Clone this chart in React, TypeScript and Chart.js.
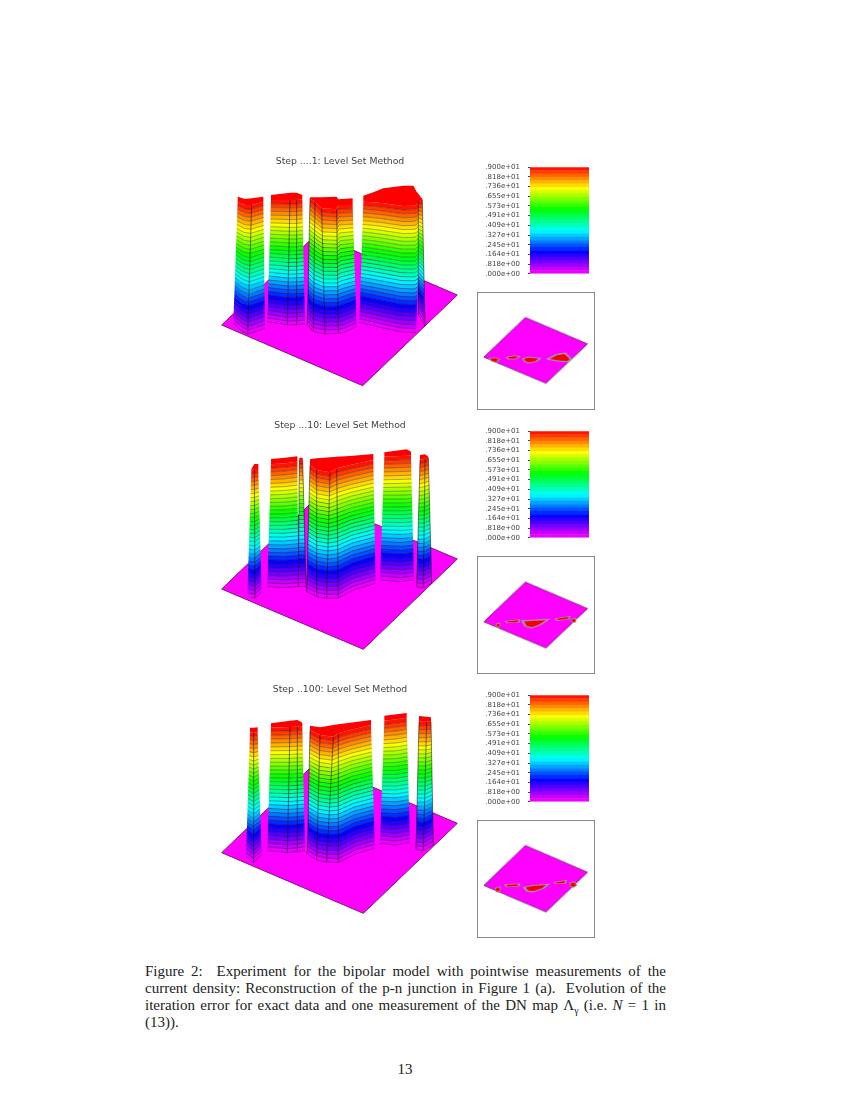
import React, { useEffect, useRef } from "react";
import { Chart, registerables } from "chart.js";

Chart.register(...registerables);

const stepTitles = ["Step ....1: Level Set Method", "Step ...10: Level Set Method", "Step ..100: Level Set Method"];

// Colour-bar ticks
const tickValues = [0, 0.818, 1.64, 2.45, 3.27, 4.09, 4.91, 5.73, 6.55, 7.36, 8.18, 9.0];
const tickLabels = [".000e+00", ".818e+00", ".164e+01", ".245e+01", ".327e+01", ".409e+01", ".491e+01", ".573e+01", ".655e+01", ".736e+01", ".818e+01", ".900e+01"];
// Contour levels of the surface
const zLevels = [0, 0.28, 0.56, 0.84, 1.13, 1.41, 1.69, 1.97, 2.25, 2.53, 2.81, 3.09, 3.38, 3.66, 3.94, 4.22, 4.5, 4.78, 5.06, 5.34, 5.63, 5.91, 6.19, 6.47, 6.75, 7.03, 7.31, 7.59, 7.88, 8.16, 8.44, 8.72, 9];
const zMax = 9;

// Surface plates: corners in view units [left, bottom, right, top]
const plate1 = [[35, 525], [458, 707], [742, 435], [319, 253]];
const plate2 = [[35, 522], [460, 703], [742, 432], [317, 251]];
const plate3 = [[35, 518], [460, 700], [742, 430], [317, 248]];

// Walls of the reconstructed junction in view units
const walls1 = [
  { topX: [83, 105, 125, 160], capY: [140, 147, 145, 140], frontY: [155, 165, 165, 155], baseX: [70, 92, 113, 165], baseY: [520, 540, 553, 535], seams: [2] },
  { topX: [183, 240, 260, 277], capY: [135, 128, 128, 135], frontY: [150, 150, 150, 148], baseX: [172, 232, 258, 285], baseY: [515, 525, 524, 522], seams: [1, 2] },
  { topX: [300, 315, 335, 380, 385, 428], capY: [142, 142, 142, 140, 148, 145], frontY: [145, 155, 175, 178, 165, 165], baseX: [292, 310, 345, 385, 400, 440], baseY: [525, 545, 552, 550, 548, 530], seams: [0, 1, 2, 3] },
  { topX: [460, 490, 520, 580, 610, 620, 632], capY: [137, 127, 115, 107, 107, 125, 140], frontY: [155, 157, 160, 168, 167, 165, 150], baseX: [448, 480, 510, 570, 600, 610, 618], baseY: [518, 525, 532, 545, 547, 548, 548], seams: [] },
  { topX: [625, 637], capY: [140, 145], frontY: [150, 150], baseX: [625, 645], baseY: [495, 527], seams: [0, 1] },
];
const walls2 = [
  { topX: [124, 133, 145], capY: [162, 147, 147], frontY: [165, 162, 162], baseX: [112, 135, 155], baseY: [545, 550, 530], seams: [1] },
  { topX: [183, 225, 262], capY: [132, 128, 124], frontY: [148, 145, 140], baseX: [172, 220, 265], baseY: [515, 518, 515], seams: [] },
  { topX: [268, 278], capY: [128, 128], frontY: [135, 135], baseX: [265, 288], baseY: [515, 515], seams: [0, 1] },
  { topX: [300, 320, 360, 380, 420, 490], capY: [133, 130, 127, 125, 123, 117], frontY: [150, 165, 172, 160, 150, 135], baseX: [290, 320, 350, 385, 430, 497], baseY: [530, 545, 550, 550, 525, 505], seams: [0, 1, 2, 3] },
  { topX: [523, 590, 603], capY: [112, 103, 110], frontY: [125, 122, 122], baseX: [510, 570, 612], baseY: [495, 500, 495], seams: [] },
  { topX: [630, 645, 655], capY: [120, 118, 125], frontY: [135, 130, 128], baseX: [620, 640, 665], baseY: [515, 518, 505], seams: [0, 1, 2] },
];
const walls3 = [
  { topX: [120, 131, 143], capY: [143, 143, 142], frontY: [157, 157, 157], baseX: [108, 130, 155], baseY: [530, 548, 525], seams: [1] },
  { topX: [183, 240, 262, 277], capY: [130, 122, 120, 128], frontY: [143, 141, 140, 140], baseX: [172, 232, 262, 285], baseY: [512, 518, 515, 512], seams: [1, 2] },
  { topX: [300, 330, 370, 385, 420, 483], capY: [137, 142, 135, 133, 128, 120], frontY: [150, 165, 170, 160, 150, 135], baseX: [292, 320, 350, 385, 440, 495], baseY: [522, 540, 546, 548, 520, 505], seams: [0, 1, 2, 3] },
  { topX: [523, 560, 590], capY: [107, 103, 99], frontY: [122, 118, 113], baseX: [510, 555, 600], baseY: [490, 495, 488], seams: [] },
  { topX: [627, 650, 663], capY: [108, 110, 112], frontY: [125, 125, 125], baseX: [618, 640, 670], baseY: [510, 512, 495], seams: [0, 1, 2] },
];

// Inset maps: plate corners and error regions in view units
const insetPlate1 = [[40, 218], [230, 298], [357, 178], [167, 97]];
const insetPlate2 = [[40, 216], [230, 296], [357, 176], [167, 95]];
const insetPlate3 = [[40, 212], [230, 293], [357, 172], [167, 90]];
const blobs1 = [
  [[55, 222], [75, 220], [88, 225], [78, 235], [62, 230]],
  [[108, 219], [130, 214], [150, 216], [140, 223], [115, 224]],
  [[158, 223], [175, 218], [215, 222], [200, 232], [175, 236], [162, 230]],
  [[232, 224], [260, 210], [290, 205], [310, 225], [300, 233], [265, 230]],
];
const blobs2 = [
  [[78, 222], [90, 220], [86, 234], [78, 232]],
  [[105, 215], [150, 210], [148, 218], [110, 219]],
  [[155, 213], [240, 208], [215, 225], [185, 235], [165, 230]],
  [[258, 207], [305, 200], [300, 208], [262, 212]],
  [[305, 210], [322, 205], [320, 218], [310, 218]],
];
const blobs3 = [
  [[75, 220], [90, 216], [88, 232], [78, 232]],
  [[103, 210], [150, 207], [148, 214], [108, 216]],
  [[160, 218], [190, 212], [240, 208], [225, 220], [190, 232], [170, 230]],
  [[255, 203], [292, 197], [290, 205], [260, 207]],
  [[303, 205], [318, 200], [325, 212], [315, 218], [305, 215]],
];

const rampColor = (z: number) => `hsl(${300 * (1 - z / zMax)}, 100%, 50%)`;
const toPts = (pairs: number[][]) => pairs.map(([x, y]) => ({ x, y }));
const closed = (pts: any[]) => [...pts, pts[0]];

function polygon(pts: any[], fillColor: string, borderColor = "transparent", borderWidth = 0) {
  return { data: closed(pts), fill: "shape", backgroundColor: fillColor, borderColor, borderWidth, showLine: true, pointRadius: 0, tension: 0 };
}
function polyline(pts: any[], borderColor: string, borderWidth: number) {
  return { data: pts, fill: false, borderColor, borderWidth, showLine: true, pointRadius: 0, tension: 0 };
}

function surfaceDatasets(plate: number[][], walls: any[]) {
  const list: any[] = [polygon(toPts(plate), "#ff00ff", "#7a1a7a", 1)];
  for (const w of walls) {
    const profile = (z: number) =>
      w.topX.map((tx: number, i: number) => ({
        x: w.baseX[i] + ((tx - w.baseX[i]) * z) / zMax,
        y: w.baseY[i] + ((w.frontY[i] - w.baseY[i]) * z) / zMax,
      }));
    for (let k = 0; k < zLevels.length - 1; k++) {
      const lo = profile(zLevels[k]);
      const hi = profile(zLevels[k + 1]);
      list.push(polygon([...lo, ...[...hi].reverse()], rampColor((zLevels[k] + zLevels[k + 1]) / 2)));
    }
    list.push(polygon([...w.topX.map((x: number, i: number) => ({ x, y: w.capY[i] })), ...[...w.topX].reverse().map((x: number, i: number) => ({ x, y: w.frontY[w.topX.length - 1 - i] }))], "#ff0000"));
    for (let k = 0; k < zLevels.length - 1; k++) {
      list.push(polyline(profile(zLevels[k]), "rgba(0,0,0,0.45)", 0.7));
    }
    for (const s of w.seams) {
      list.push(polyline([{ x: w.baseX[s], y: w.baseY[s] }, { x: w.topX[s], y: w.frontY[s] }], "rgba(0,0,0,0.55)", 0.9));
    }
  }
  return list.reverse();
}

function insetDatasets(plate: number[][], blobs: number[][][]) {
  const list: any[] = [polygon(toPts(plate), "#ff00ff", "#8a208a", 1)];
  for (const b of blobs) {
    const cx = b.reduce((a, p) => a + p[0], 0) / b.length;
    const cy = b.reduce((a, p) => a + p[1], 0) / b.length;
    list.push(polygon(toPts(b), "#b08ac8", "#9aa58a", 0.8));
    list.push(polygon(b.map(([x, y]) => ({ x: cx + (x - cx) * 0.78, y: cy + (y - cy) * 0.78 })), "#f00000"));
  }
  return list.reverse();
}

const hiddenAxes = (xMin: number, xMax: number, yMin: number, yMax: number) => ({
  x: { type: "linear", display: false, min: xMin, max: xMax },
  y: { type: "linear", display: false, reverse: true, min: yMin, max: yMax },
});

function useChart(config: () => any) {
  const ref = useRef<HTMLCanvasElement>(null);
  useEffect(() => {
    const chart = new Chart(ref.current as HTMLCanvasElement, config());
    return () => chart.destroy();
  }, []);
  return ref;
}

const canvasStyle = (left: number, top: number, extra = {}) => ({ position: "absolute", left, top, filter: "blur(0.4px)", ...extra } as React.CSSProperties);

function Surface({ top, title, titleTop, plate, walls }: any) {
  const ref = useChart(() => ({
    type: "scatter",
    data: { datasets: surfaceDatasets(plate, walls) },
    options: {
      responsive: false,
      animation: false,
      events: [],
      layout: { padding: 0 },
      scales: hiddenAxes(0, 780, 57, 735),
      plugins: {
        legend: { display: false },
        tooltip: { enabled: false },
        title: {
          display: true,
          text: title,
          color: "#444",
          font: { family: "DejaVu Sans", size: 9.3, weight: "normal", lineHeight: 1 },
          padding: { top: titleTop, bottom: 19 - 9.3 - titleTop },
        },
      },
    },
  }));
  return <canvas ref={ref} width={260} height={245} style={canvasStyle(210, top)} />;
}

function ColorBar({ top }: any) {
  const ref = useChart(() => ({
    type: "bar",
    data: {
      labels: ["z"],
      datasets: zLevels.slice(0, -1).map((lo, k) => ({
        data: [[lo, zLevels[k + 1]]],
        backgroundColor: rampColor((lo + zLevels[k + 1]) / 2),
        grouped: false,
        barPercentage: 1,
        categoryPercentage: 1,
      })),
    },
    options: {
      responsive: false,
      animation: false,
      events: [],
      layout: { padding: { top: 0, bottom: 0, right: 6, left: 0 } },
      plugins: { legend: { display: false }, tooltip: { enabled: false } },
      scales: {
        x: { display: false },
        y: {
          min: 0,
          max: 9,
          afterBuildTicks: (s: any) => { s.ticks = tickValues.map((value) => ({ value })); },
          afterFit: (s: any) => { s.width = 60; },
          grid: { drawOnChartArea: false, tickLength: 2, tickColor: "#444", drawTicks: true },
          border: { color: "#999", width: 0.5 },
          ticks: {
            autoSkip: false,
            padding: 8,
            color: "#444",
            font: { family: "DejaVu Sans", size: 7 },
            callback: (_v: any, i: number) => tickLabels[i],
          },
        },
      },
    },
  }));
  return <canvas ref={ref} width={125} height={131} style={canvasStyle(470, top)} />;
}

function Inset({ top, plate, blobs }: any) {
  const ref = useChart(() => ({
    type: "scatter",
    data: { datasets: insetDatasets(plate, blobs) },
    options: {
      responsive: false,
      animation: false,
      events: [],
      layout: { padding: 0 },
      scales: hiddenAxes(22, 377, top.yMin, top.yMin + 355),
      plugins: { legend: { display: false }, tooltip: { enabled: false } },
    },
  }));
  return <canvas ref={ref} width={118} height={118} style={canvasStyle(477, top.px, { border: "1px solid #888" })} />;
}

const captionLine = (top: number, justify: boolean): React.CSSProperties => ({
  position: "absolute",
  left: 145,
  top,
  width: 521,
  height: 17,
  lineHeight: "17px",
  whiteSpace: "nowrap",
  textAlign: justify ? "justify" : "left",
  textAlignLast: justify ? "justify" : "left",
  fontFamily: "Liberation Serif",
  fontSize: 15,
  color: "#222",
});

export default function App() {
  return (
    <div style={{ position: "absolute", left: 0, top: 0, width: 850, height: 1100, background: "#fff", overflow: "hidden" }}>
      <Surface top={150} title={stepTitles[0]} titleTop={7.4} plate={plate1} walls={walls1} />
      <Surface top={415} title={stepTitles[1]} titleTop={6.4} plate={plate2} walls={walls2} />
      <Surface top={680} title={stepTitles[2]} titleTop={5.1} plate={plate3} walls={walls3} />
      <ColorBar top={155} />
      <ColorBar top={419} />
      <ColorBar top={683} />
      <Inset top={{ px: 292, yMin: 22 }} plate={insetPlate1} blobs={blobs1} />
      <Inset top={{ px: 556, yMin: 18 }} plate={insetPlate2} blobs={blobs2} />
      <Inset top={{ px: 820, yMin: 15 }} plate={insetPlate3} blobs={blobs3} />
      <div style={captionLine(963, true)}>Figure 2:&nbsp; Experiment for the bipolar model with pointwise measurements of the</div>
      <div style={captionLine(980, true)}>current density: Reconstruction of the p-n junction in Figure 1 (a).&nbsp; Evolution of the</div>
      <div style={captionLine(997, true)}>iteration error for exact data and one measurement of the DN map Λ<sub style={{ fontSize: 10, lineHeight: 0 }}>γ</sub> (i.e. <i>N</i> = 1 in</div>
      <div style={captionLine(1014, false)}>(13)).</div>
      <div style={{ ...captionLine(1061, false), left: 305, width: 200, textAlign: "center", textAlignLast: "center" }}>13</div>
    </div>
  );
}
